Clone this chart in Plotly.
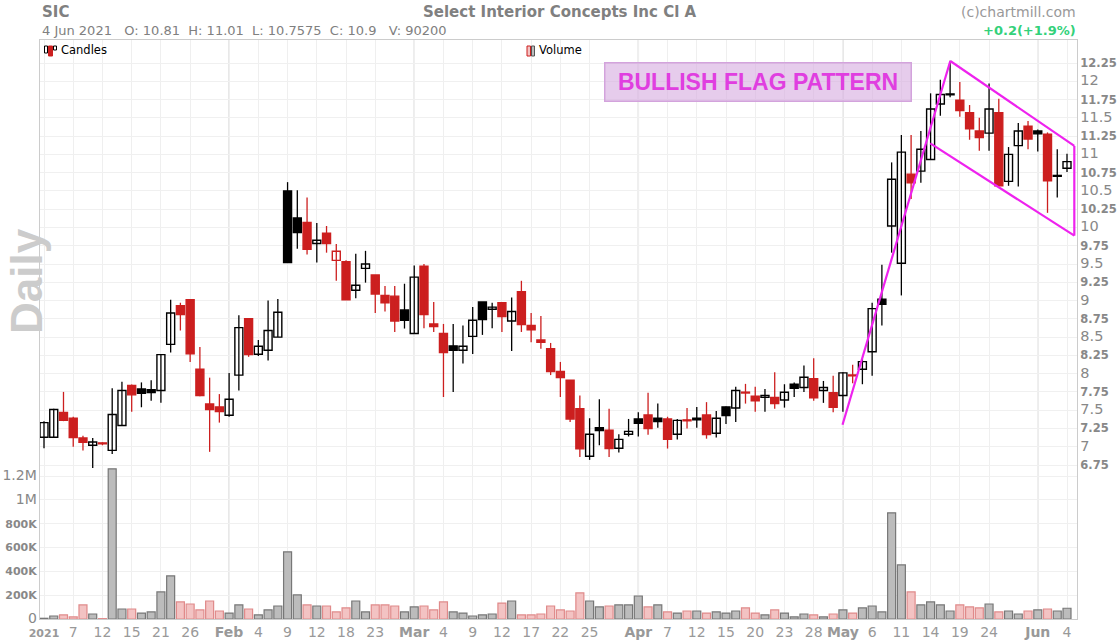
import plotly.graph_objects as go

# ---------------- data ----------------
dates = [
    "2021-01-04", "2021-01-05", "2021-01-06", "2021-01-07", "2021-01-08",
    "2021-01-11", "2021-01-12", "2021-01-13", "2021-01-14", "2021-01-15",
    "2021-01-19", "2021-01-20", "2021-01-21", "2021-01-22", "2021-01-25",
    "2021-01-26", "2021-01-27", "2021-01-28", "2021-01-29",
    "2021-02-01", "2021-02-02", "2021-02-03", "2021-02-04", "2021-02-05",
    "2021-02-08", "2021-02-09", "2021-02-10", "2021-02-11", "2021-02-12",
    "2021-02-16", "2021-02-17", "2021-02-18", "2021-02-19", "2021-02-22",
    "2021-02-23", "2021-02-24", "2021-02-25", "2021-02-26",
    "2021-03-01", "2021-03-02", "2021-03-03", "2021-03-04", "2021-03-05",
    "2021-03-08", "2021-03-09", "2021-03-10", "2021-03-11", "2021-03-12",
    "2021-03-15", "2021-03-16", "2021-03-17", "2021-03-18", "2021-03-19",
    "2021-03-22", "2021-03-23", "2021-03-24", "2021-03-25", "2021-03-26",
    "2021-03-29", "2021-03-30", "2021-03-31",
    "2021-04-01", "2021-04-05", "2021-04-06", "2021-04-07", "2021-04-08",
    "2021-04-09", "2021-04-12", "2021-04-13", "2021-04-14", "2021-04-15",
    "2021-04-16", "2021-04-19", "2021-04-20", "2021-04-21", "2021-04-22",
    "2021-04-23", "2021-04-26", "2021-04-27", "2021-04-28", "2021-04-29",
    "2021-04-30",
    "2021-05-03", "2021-05-04", "2021-05-05", "2021-05-06", "2021-05-07",
    "2021-05-10", "2021-05-11", "2021-05-12", "2021-05-13", "2021-05-14",
    "2021-05-17", "2021-05-18", "2021-05-19", "2021-05-20", "2021-05-21",
    "2021-05-24", "2021-05-25", "2021-05-26", "2021-05-27", "2021-05-28",
    "2021-06-01", "2021-06-02", "2021-06-03", "2021-06-04",
]

opens = [
    7.13, 7.13, 7.47, 7.39, 7.12, 7.02, 7.05, 6.95, 7.29, 7.84,
    7.79, 7.78, 7.77, 8.40, 8.93, 9.01, 8.06, 7.585, 7.545,
    7.43, 7.98, 8.75, 8.265, 8.32, 8.50, 10.50, 10.13, 10.07, 9.78,
    9.92, 9.55, 9.53, 9.14, 9.44, 9.35, 9.07, 9.06, 8.87,
    8.55, 9.47, 8.68, 8.55, 8.38, 8.32, 8.51, 8.98, 8.88, 8.97,
    8.72, 9.12, 8.66, 8.46, 8.34, 8.03, 7.91, 7.52, 6.87, 7.26,
    7.225, 6.98, 7.17,
    7.38, 7.435, 7.39, 7.38, 7.17, 7.365, 7.39, 7.435, 7.185, 7.545,
    7.53, 7.745, 7.69, 7.675, 7.675, 7.64, 7.855, 7.81, 7.93, 7.77, 7.74,
    7.70, 7.98, 8.06, 8.30, 9.02, 10.02, 9.51, 10.73, 10.77, 10.93,
    11.69, 11.815, 11.74, 11.57, 11.32, 11.29, 11.57, 10.63, 11.12, 11.385,
    11.32, 11.275, 10.71, 10.81,
]
highs = [
    7.35, 7.52, 7.75, 7.41, 7.15, 7.12, 7.06, 7.80, 7.89, 7.85,
    7.88, 7.91, 8.27, 9.01, 8.97, 9.01, 8.365, 7.945, 7.72,
    8.01, 8.80, 8.75, 8.46, 9.00, 9.02, 10.62, 10.51, 10.41, 10.06,
    10.02, 9.774, 9.55, 9.64, 9.68, 9.35, 9.20, 9.20, 9.23,
    9.48, 9.50, 8.98, 8.68, 8.68, 8.66, 8.91, 8.98, 8.97, 8.97,
    9.04, 9.27, 8.83, 8.79, 8.42, 8.16, 7.91, 7.70, 7.39, 7.65,
    7.52, 7.17, 7.38,
    7.47, 7.74, 7.59, 7.41, 7.38, 7.53, 7.545, 7.61, 7.49, 7.55,
    7.82, 7.86, 7.82, 7.79, 8.02, 7.855, 7.88, 8.11, 8.21, 7.90, 7.97,
    8.02, 8.12, 8.20, 8.97, 9.49, 10.89, 11.265, 11.265, 11.32, 11.835,
    12.02, 12.28, 11.99, 11.675, 11.50, 11.97, 11.76, 11.10, 11.43, 11.456,
    11.34, 11.30, 11.07, 11.01,
]
lows = [
    6.98, 7.12, 7.35, 7.00, 6.95, 6.71, 7.02, 6.90, 7.29, 7.48,
    7.54, 7.63, 7.60, 8.29, 8.59, 8.16, 7.69, 6.93, 7.33,
    7.41, 7.77, 8.23, 8.24, 8.18, 8.50, 9.52, 9.71, 9.63, 9.52,
    9.655, 9.27, 9.01, 9.03, 9.245, 8.83, 8.85, 8.57, 8.617,
    8.55, 8.62, 8.57, 7.68, 7.75, 8.14, 8.27, 8.53, 8.62, 8.57,
    8.31, 8.57, 8.43, 8.34, 7.98, 7.68, 7.34, 6.86, 6.82, 7.02,
    6.86, 6.92, 7.14,
    7.14, 7.165, 7.26, 6.975, 7.10, 7.25, 7.26, 7.11, 7.125, 7.31,
    7.34, 7.59, 7.48, 7.48, 7.52, 7.535, 7.68, 7.75, 7.63, 7.60, 7.47,
    7.48, 7.87, 7.855, 7.97, 8.66, 9.655, 9.07, 10.39, 10.61, 10.93,
    11.53, 11.78, 11.515, 11.20, 11.05, 11.05, 10.56, 10.57, 10.56, 11.07,
    11.04, 10.20, 10.41, 10.7575,
]
closes = [
    7.33, 7.51, 7.36, 7.125, 7.06, 7.065, 7.04, 7.44, 7.77, 7.71,
    7.73, 7.74, 8.26, 8.83, 8.81, 8.27, 7.70, 7.51, 7.48,
    7.65, 8.63, 8.26, 8.375, 8.59, 8.84, 9.52, 9.93, 9.70, 9.825,
    9.78, 9.675, 9.01, 9.21, 9.50, 9.09, 8.97, 8.72, 8.73,
    9.32, 8.81, 8.645, 8.29, 8.32, 8.375, 8.73, 8.74, 8.91, 8.78,
    8.85, 8.67, 8.60, 8.43, 8.03, 7.945, 7.38, 6.97, 7.17, 7.22,
    6.975, 7.10, 7.21,
    7.32, 7.25, 7.345, 7.10, 7.36, 7.355, 7.37, 7.165, 7.39, 7.425,
    7.77, 7.735, 7.63, 7.70, 7.59, 7.745, 7.80, 7.95, 7.67, 7.81, 7.54,
    8.01, 7.97, 8.165, 8.89, 8.95, 10.66, 11.03, 10.61, 11.07, 11.62,
    11.82, 11.825, 11.60, 11.35, 11.23, 11.62, 10.57, 11.00, 11.32, 11.21,
    11.28, 10.64, 10.70, 10.90,
]
volumes = [
    6000, 25000, 34000, 17000, 118000, 42000, 3000, 1260000, 84000, 84000,
    50000, 59000, 227000, 362000, 143000, 126000, 76000, 151000, 67000,
    50000, 118000, 84000, 34000, 76000, 109000, 564000, 202000, 118000, 109000,
    109000, 59000, 93000, 151000, 59000, 118000, 118000, 109000, 59000,
    101000, 109000, 76000, 143000, 59000, 50000, 25000, 34000, 42000, 134000,
    151000, 34000, 34000, 42000, 109000, 76000, 67000, 219000, 151000, 101000,
    109000, 118000, 118000,
    193000, 101000, 118000, 59000, 50000, 67000, 67000, 50000, 59000, 50000,
    67000, 93000, 50000, 34000, 76000, 50000, 17000, 42000, 34000, 17000, 42000,
    76000, 50000, 93000, 109000, 59000, 891000, 454000, 227000, 118000, 143000,
    118000, 67000, 118000, 101000, 93000, 126000, 59000, 67000, 42000, 67000,
    76000, 84000, 67000, 90200,
]

tick_dates = [
    "2021-01-04", "2021-01-07", "2021-01-12", "2021-01-15", "2021-01-21", "2021-01-26",
    "2021-02-01", "2021-02-04", "2021-02-09", "2021-02-12", "2021-02-18", "2021-02-23",
    "2021-03-01", "2021-03-04", "2021-03-09", "2021-03-12", "2021-03-17", "2021-03-22", "2021-03-25",
    "2021-04-01", "2021-04-07", "2021-04-12", "2021-04-15", "2021-04-20", "2021-04-23", "2021-04-28",
    "2021-05-03", "2021-05-06", "2021-05-11", "2021-05-14", "2021-05-19", "2021-05-24",
    "2021-06-01", "2021-06-04",
]
tick_labels = [
    "2021", "7", "12", "15", "21", "26",
    "Feb", "4", "9", "12", "18", "23",
    "Mar", "4", "9", "12", "17", "22", "25",
    "Apr", "7", "12", "15", "20", "23", "28",
    "May", "6", "11", "14", "19", "24",
    "Jun", "4",
]
price_ticks = [6.75, 7, 7.25, 7.5, 7.75, 8, 8.25, 8.5, 8.75, 9, 9.25, 9.5, 9.75,
               10, 10.25, 10.5, 10.75, 11, 11.25, 11.5, 11.75, 12, 12.25]
volume_ticks = [0, 200000, 400000, 600000, 800000, 1000000, 1200000]
volume_tick_labels = ["0", "200K", "400K", "600K", "800K", "1M", "1.2M"]

# hand-drawn flag pattern lines (bar index, price)
pole_x = [81.96, 93.02]
pole_y = [7.30, 12.277]
flag_top_x = [93.02, 105.75]
flag_top_y = [12.277, 11.115]
flag_bottom_x = [90.97, 105.75]
flag_bottom_y = [11.15, 9.888]
flag_edge_x = [105.75, 105.75]
flag_edge_y = [11.115, 9.888]

# ---------------- geometry helpers ----------------
W, H = 1117, 640
ML, MR, MT, MB = 40, 40, 40, 21
PW, PH = W - ML - MR, H - MT - MB


def px(x):
    return (x - ML) / PW


def py(y):
    return (H - MB - y) / PH


RED = "#cc1f1f"
BLACK = "#000000"

n = len(dates)
xs = list(range(n))
rising = [True] + [closes[i] > closes[i - 1] for i in range(1, n)]
up = [closes[i] > opens[i] for i in range(n)]

fig = go.Figure()

# volume bars
for is_rise, fill, line in [(True, "#bcbcbc", "#777777"), (False, "#f3c3c3", "#e08a8a")]:
    idx = [i for i in range(n) if rising[i] == is_rise]
    fig.add_trace(go.Bar(
        x=[xs[i] for i in idx], y=[volumes[i] for i in idx],
        width=0.82, marker=dict(color=fill, line=dict(color=line, width=1.2)),
        yaxis="y", hoverinfo="skip", showlegend=False,
    ))

# wicks
for color, sel in [(BLACK, lambda i: rising[i]), (RED, lambda i: not rising[i])]:
    wx, wy = [], []
    for i in range(n):
        if sel(i):
            wx += [xs[i], xs[i], None]
            wy += [lows[i], highs[i], None]
    fig.add_trace(go.Scatter(x=wx, y=wy, mode="lines", line=dict(color=color, width=1.3),
                             yaxis="y2", hoverinfo="skip", showlegend=False))

# bodies
styles = [
    (lambda i: up[i] and rising[i], "#ffffff", BLACK),
    (lambda i: (not up[i]) and rising[i], BLACK, BLACK),
    (lambda i: (not up[i]) and (not rising[i]), RED, RED),
    (lambda i: up[i] and (not rising[i]), "#ffffff", RED),
]
for sel, fill, line in styles:
    idx = [i for i in range(n) if sel(i)]
    if not idx:
        continue
    fig.add_trace(go.Bar(
        x=[xs[i] for i in idx],
        y=[max(abs(closes[i] - opens[i]), 0.012) for i in idx],
        base=[min(opens[i], closes[i]) for i in idx],
        width=0.82, marker=dict(color=fill, line=dict(color=line, width=1.4)),
        yaxis="y2", hoverinfo="skip", showlegend=False,
    ))

# flag pattern lines
for lx, ly in [(pole_x, pole_y), (flag_top_x, flag_top_y),
               (flag_bottom_x, flag_bottom_y), (flag_edge_x, flag_edge_y)]:
    fig.add_trace(go.Scatter(x=lx, y=ly, mode="lines", line=dict(color="#ee22ee", width=2.2),
                             yaxis="y2", hoverinfo="skip", showlegend=False, cliponaxis=False))

# ---------------- axes ----------------
tickvals = [dates.index(d) for d in tick_dates]
ticktext = []
for lab in tick_labels:
    if lab == "2021":
        ticktext.append('<b><span style="font-size:11px">2021</span></b>')
    elif lab.isalpha():
        ticktext.append("<b>%s</b>" % lab)
    else:
        ticktext.append(lab)

price_text = []
for v in price_ticks:
    lab = f"{v:g}"
    if round(v * 4) % 2 == 1:
        price_text.append("<b>%s</b>" % lab)
    else:
        price_text.append('<span style="font-size:14.5px">%s</span>' % lab)

vol_text = []
for lab in volume_tick_labels:
    if lab in ("0", "1M", "1.2M"):
        vol_text.append('<span style="font-size:14px">%s</span>' % lab)
    else:
        vol_text.append("<b>%s</b>" % lab)

x_lo = -4 / 9.743
x_hi = 105 + 10 / 9.743
p_per = 402 / 5.5
p_top = 12.25 + 23 / p_per
p_bot = 12.25 - 556 / p_per
v_top = 579 / 143 * 1.2e6

month_starts = []
for i in range(1, n):
    if dates[i][5:7] != dates[i - 1][5:7]:
        month_starts.append(xs[i])

shapes = []
for m in month_starts:
    shapes.append(dict(type="line", xref="x", yref="paper", x0=m, x1=m, y0=0, y1=1,
                       line=dict(color="#dcdcdc", width=1.5), layer="below"))

# legend icons
def rect(x0, y0, x1, y1, fill, line):
    return dict(type="rect", xref="paper", yref="paper", x0=px(x0), x1=px(x1),
                y0=py(y1), y1=py(y0), fillcolor=fill, line=dict(color=line, width=1))

shapes += [
    rect(44.5, 46, 47.5, 53, "#ffffff", "#000000"),
    rect(48.5, 46, 52.5, 56, RED, RED),
    rect(53.5, 46, 56.5, 50, "#ffffff", "#000000"),
    rect(527, 46, 530.5, 56, "#f3c3c3", RED),
    rect(531.5, 46, 534.5, 56, "#bcbcbc", "#555555"),
]

GRAY = "#808080"
annotations = [
    dict(text="<b>SIC</b>", x=px(40), y=py(12), xanchor="left", yanchor="middle",
         font=dict(family="DejaVu Sans", size=15, color=GRAY)),
    dict(text="<b>Select Interior Concepts Inc Cl A</b>", x=px(560), y=py(12),
         xanchor="center", yanchor="middle", font=dict(family="DejaVu Sans", size=15, color=GRAY)),
    dict(text="(c)chartmill.com", x=px(1078), y=py(12), xanchor="right", yanchor="middle",
         font=dict(family="DejaVu Sans", size=14, color="#999999")),
    dict(text="4 Jun 2021\u00a0\u00a0\u00a0O: 10.81\u00a0\u00a0H: 11.01\u00a0\u00a0L: 10.7575\u00a0\u00a0C: 10.9\u00a0\u00a0\u00a0V: 90200",
         x=px(40), y=py(30), xanchor="left", yanchor="middle",
         font=dict(family="DejaVu Sans", size=13, color=GRAY)),
    dict(text="<b>+0.2(+1.9%)</b>", x=px(1078), y=py(30), xanchor="right", yanchor="middle",
         font=dict(family="DejaVu Sans", size=13, color="#33d17a")),
    dict(text="Candles", x=px(59), y=py(50), xanchor="left", yanchor="middle",
         font=dict(family="DejaVu Sans", size=11.5, color="#000000")),
    dict(text="Volume", x=px(537), y=py(50), xanchor="left", yanchor="middle",
         font=dict(family="DejaVu Sans", size=11.5, color="#000000")),
    dict(text="<b>Daily</b>", x=px(26), y=py(281), xanchor="center", yanchor="middle",
         textangle=-90, font=dict(family="Liberation Sans", size=44, color="#cccccc")),
    dict(text="<b>BULLISH FLAG PATTERN</b>", x=px(757.5), y=py(81.5), xanchor="center",
         yanchor="middle", width=303, height=35, borderpad=1,
         bgcolor="rgba(214,170,224,0.6)", bordercolor="#d3a3dc", borderwidth=1.5,
         font=dict(family="Liberation Sans", size=23, color="#e03ee0")),
]
for a in annotations:
    a.setdefault("xref", "paper")
    a.setdefault("yref", "paper")
    a.setdefault("showarrow", False)

fig.update_layout(
    width=W, height=H,
    margin=dict(l=ML, r=MR, t=MT, b=MB, pad=0, autoexpand=False),
    paper_bgcolor="#ffffff", plot_bgcolor="#ffffff",
    barmode="overlay", showlegend=False,
    font=dict(family="DejaVu Sans"),
    xaxis=dict(range=[x_lo, x_hi], tickvals=tickvals, ticktext=ticktext, automargin=False,
               showgrid=True, gridcolor="#efefef", gridwidth=1, zeroline=False,
               showline=True, linecolor="#cccccc", linewidth=1, mirror=True, ticks="",
               tickfont=dict(size=14, color="#999999")),
    yaxis=dict(range=[0, v_top], tickvals=volume_ticks, ticktext=vol_text, side="left",
               automargin=False,
               showgrid=True, gridcolor="#f0f0f0", zeroline=False, showline=True,
               linecolor="#cccccc", linewidth=1, ticks="",
               tickfont=dict(size=11, color="#888888")),
    yaxis2=dict(range=[p_bot, p_top], tickvals=price_ticks, ticktext=price_text,
                automargin=False,
                overlaying="y", side="right", showgrid=True, gridcolor="#f0f0f0",
                zeroline=False, showline=True, linecolor="#cccccc", linewidth=1, ticks="",
                tickfont=dict(size=11.5, color="#888888")),
    shapes=shapes, annotations=annotations,
)

fig.write_html(
    "out.html",
    config={"displayModeBar": False},
    post_script="document.body.style.margin='0px'; document.body.style.overflow='hidden';",
)
